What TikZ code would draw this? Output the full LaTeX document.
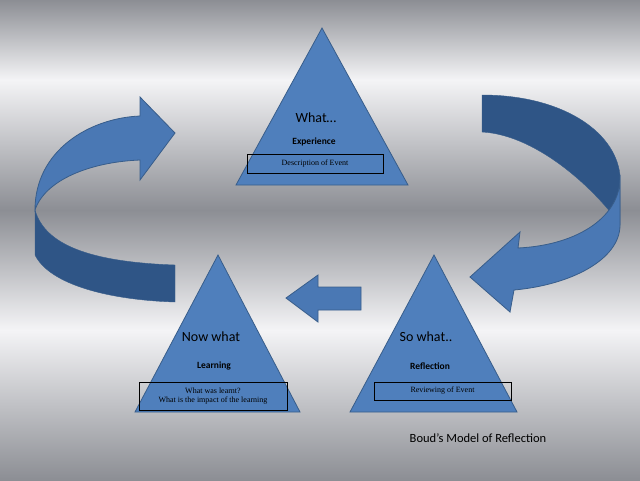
\documentclass[tikz,border=0pt]{standalone}
\usepackage{fontspec}
\setmainfont{Liberation Serif}
\newfontfamily\sansf{Carlito}
\begin{document}
\begin{tikzpicture}[x=1pt,y=-1pt,
  tri/.style={fill=tb,draw=te,line width=0.8pt},
  arr/.style={fill=ab,draw=te,line width=0.8pt},
  box/.style={draw=black,line width=0.4pt,font=\fontsize{8}{9}\selectfont,inner sep=1pt,align=center},
  big/.style={font=\sansf\fontsize{14}{15}\selectfont},
  lab/.style={font=\sansf\bfseries\fontsize{9.5}{10}\selectfont}]
\definecolor{tb}{HTML}{4F7FBC}
\definecolor{te}{HTML}{385D8A}
\definecolor{ab}{HTML}{4A78B4}
\definecolor{ad}{HTML}{2F5586}
\definecolor{g1}{HTML}{8C8E94}
\definecolor{g2}{HTML}{F4F4F6}
\useasboundingbox (0,0) rectangle (640,480);
\shade[top color=g1,bottom color=g2] (0,0) rectangle (640,80);
\shade[top color=g2,bottom color=g1] (0,80) rectangle (640,210);
\shade[top color=g1,bottom color=g2] (0,210) rectangle (640,330);
\shade[top color=g2,bottom color=g1] (0,330) rectangle (640,480);
% left curved arrow
\fill[ad,draw=te] (175,265) .. controls (90,262) and (45,245) .. (35,210) -- (35,255) .. controls (50,285) and (110,300) .. (175,302) -- cycle;
\path[arr] (35,210) .. controls (35,150) and (90,118) .. (140,116) -- (140,97) -- (175,133) -- (140,180) -- (140,160) .. controls (90,162) and (45,180) .. (35,210) -- cycle;
% right curved arrow
\fill[ad,draw=te] (482,95) .. controls (560,95) and (615,130) .. (620,175) -- (620,225) .. controls (600,195) and (540,135) .. (482,132) -- cycle;
\path[arr] (620,175) .. controls (622,215) and (580,245) .. (518,248) -- (520,232) -- (470,277) -- (510,312) -- (514,290) .. controls (570,285) and (620,260) .. (620,225) -- cycle;
% middle arrow
\path[arr] (361,287) -- (318,287) -- (318,275) -- (286,298) -- (318,322) -- (318,310) -- (361,310) -- cycle;
% triangles
\path[tri] (322,28) -- (408,185) -- (236,185) -- cycle;
\path[tri] (218,255) -- (300,412) -- (135,412) -- cycle;
\path[tri] (434,255) -- (517,412) -- (350,412) -- cycle;
\node[big] (t1) at (316,118) {What\ldots};
\node[lab] (l1) at (314,142) {Experience};
\node[box,minimum width=136,minimum height=19] (b1) at (315,163.5) {Description of Event};
\node[big] (t2) at (211,337) {Now what};
\node[lab] (l2) at (214,366) {Learning};
\node[box,minimum width=148,minimum height=28] (b2) at (213,396) {What was learnt?\\What is the impact of the learning};
\node[big] (t3) at (426,337) {So what..};
\node[lab] (l3) at (430,366) {Reflection};
\node[box,minimum width=137,minimum height=18] (b3) at (442.5,391) {Reviewing of Event};
\node[font=\sansf\fontsize{12.5}{13}\selectfont] (ti) at (478,438) {Boud’s Model of Reflection};
\end{tikzpicture}
\end{document}
